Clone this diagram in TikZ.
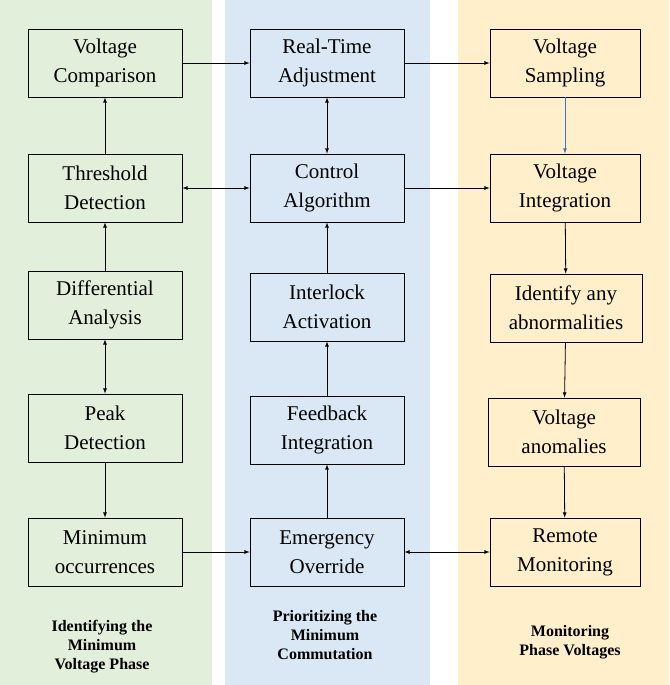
\documentclass[tikz,border=0pt]{standalone}
\usepackage{fontspec}
\setmainfont{Liberation Serif}
\usetikzlibrary{positioning}
\definecolor{greenbg}{RGB}{226,239,218}
\definecolor{bluebg}{RGB}{218,232,245}
\definecolor{orangebg}{RGB}{255,240,203}
\definecolor{arrblue}{RGB}{68,114,196}
\tikzset{
  blk/.style={draw=black, thick, minimum width=154pt, minimum height=68pt, align=center,
    font=\rmfamily\fontsize{21}{29}\selectfont},
  lbl/.style={align=center, font=\rmfamily\fontsize{16}{19}\selectfont\bfseries},
  arr/.style={-latex, thick},
  darr/.style={latex-latex, thick}
}
\begin{document}
\begin{tikzpicture}[x=1pt,y=-1pt]
  \useasboundingbox (0,0) rectangle (669,685);
  % column backgrounds
  \fill[greenbg] (0,0) rectangle (212,685);
  \fill[bluebg] (225,0) rectangle (430,685);
  \fill[orangebg] (458,0) rectangle (669,685);

  % left column
  \node[blk, fill=greenbg] (vcomp) at (105,63) {Voltage\\Comparison};
  \node[blk, fill=greenbg] (thresh) at (105,188) {Threshold\\Detection};
  \node[blk, fill=greenbg] (diff) at (105,305) {Differential\\Analysis};
  \node[blk, fill=greenbg] (peak) at (105,428) {Peak\\Detection};
  \node[blk, fill=greenbg] (mino) at (105,552) {Minimum\\occurrences};

  % middle column
  \node[blk, fill=bluebg] (rta) at (327,63) {Real-Time\\Adjustment};
  \node[blk, fill=bluebg] (ctrl) at (327,188) {Control\\Algorithm};
  \node[blk, fill=bluebg] (inter) at (327,307) {Interlock\\Activation};
  \node[blk, fill=bluebg] (feed) at (327,430) {Feedback\\Integration};
  \node[blk, fill=bluebg] (emer) at (327,552) {Emergency\\Override};

  % right column
  \node[blk, fill=orangebg, minimum width=150pt] (vsamp) at (565,63) {Voltage\\Sampling};
  \node[blk, fill=orangebg, minimum width=150pt] (vint) at (565,188) {Voltage\\Integration};
  \node[blk, fill=orangebg, minimum width=152pt] (ident) at (566,308) {Identify any\\abnormalities};
  \node[blk, fill=orangebg, minimum width=152pt] (anom) at (564,432) {Voltage\\anomalies};
  \node[blk, fill=orangebg, minimum width=150pt] (remote) at (565,552) {Remote\\Monitoring};

  % column titles
  \node[lbl] (tl) at (102,647) {Identifying the\\Minimum\\Voltage Phase};
  \node[lbl] (tm) at (325,635) {Prioritizing the\\Minimum\\Commutation};
  \node[lbl] (tr) at (570,642) {Monitoring\\Phase Voltages};

  % connectors
  \draw[arr] (vcomp) -- (rta);
  \draw[arr] (rta) -- (vsamp);
  \draw[darr] (rta) -- (ctrl);
  \draw[arr] (thresh) -- (vcomp);
  \draw[darr] (thresh) -- (ctrl);
  \draw[arr] (ctrl) -- (vint);
  \draw[arr, draw=arrblue] (vsamp) -- (vint);
  \draw[arr] (diff) -- (thresh);
  \draw[darr] (diff) -- (peak);
  \draw[arr] (peak) -- (mino);
  \draw[arr] (mino) -- (emer);
  \draw[arr] (emer) -- (feed);
  \draw[arr] (feed) -- (inter);
  \draw[arr] (inter) -- (ctrl);
  \draw[darr] (emer) -- (remote);
  \draw[arr] (vint) -- (ident);
  \draw[arr] (ident) -- (anom);
  \draw[arr] (anom) -- (remote);
\end{tikzpicture}
\end{document}
